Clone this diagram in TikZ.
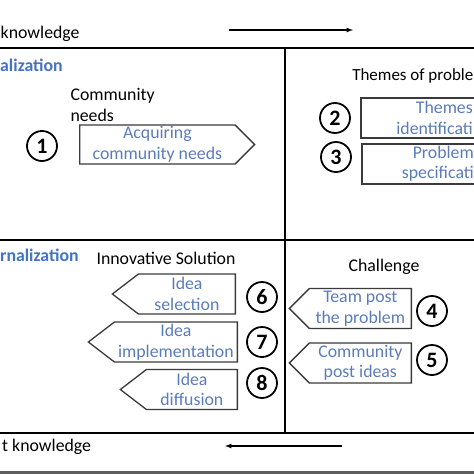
\documentclass[tikz,border=0pt]{standalone}
\usepackage{fontspec}
\setmainfont{Carlito}
\usepackage{tikz}
\usetikzlibrary{shapes,arrows,positioning}
\definecolor{headblue}{HTML}{4472C4}
\definecolor{stepblue}{HTML}{5A7CBA}
\definecolor{boxgray}{HTML}{3A3A3A}
\definecolor{bandgray}{HTML}{5E5E5E}
\tikzset{
  gridline/.style  = {black, line width=2pt},
  flowarrow/.style = {black, line width=1.2pt, ->, >=latex},
  numcirc/.style   = {circle, draw=black, line width=1.8pt, minimum size=30pt, inner sep=0pt,
                      font=\fontsize{22}{22}\selectfont\bfseries},
  stepright/.style = {signal, signal to=east, draw=boxgray, line width=1.3pt, text=stepblue,
                      align=center, minimum height=39pt, inner sep=1pt},
  stepleft/.style  = {signal, signal to=west, signal pointer angle=75, draw=boxgray,
                      line width=1.3pt, text=stepblue, align=center, minimum height=40pt, inner sep=1pt},
  stepbox/.style   = {rectangle, draw=boxgray, line width=1.3pt,
                      minimum width=166pt, minimum height=40pt},
  steptext/.style  = {text=stepblue, align=right, anchor=east, inner sep=0pt},
  quadtitle/.style = {text=headblue, font=\fontsize{17.8}{20.5}\selectfont\bfseries},
}

\begin{document}
\begin{tikzpicture}[x=1pt,y=-1pt,font=\fontsize{17.8}{20.5}\selectfont]
  \useasboundingbox (0,0) rectangle (474,474);
  \clip (0,0) rectangle (474,474);

  % frame
  \draw[gridline] (-5,48) -- (480,48);
  \draw[gridline] (-5,240) -- (480,240);
  \draw[gridline] (-5,433) -- (480,433);
  \draw[gridline] (285,48) -- (285,433);
  \fill[bandgray] (0,471) rectangle (474,474);

  % knowledge axes
  \node[anchor=west, inner sep=0pt] (toptext) at (0.5,34) {knowledge};
  \node[anchor=west, inner sep=0pt] (bottext) at (2,447) {t knowledge};
  \coordinate (ta) at (229,30);
  \coordinate (tb) at (353,30);
  \coordinate (ba) at (342,446);
  \coordinate (bb) at (225,446);
  \draw[flowarrow] (ta) -- (tb);
  \draw[flowarrow] (ba) -- (bb);

  % upper left
  \node[quadtitle, anchor=west, inner sep=0pt] (soc) at (0,65) {alization};
  \node[anchor=west, align=left] (needs) at (67,105) {Community\\needs};
  \node[stepright, minimum width=175pt, anchor=west] (b1) at (79,144.5) {Acquiring\\community needs};
  \node[numcirc] (c1) at (42,146) {1};

  % upper right
  \node[anchor=east, inner sep=0pt, font=\fontsize{17}{20}\selectfont] (themes) at (473.5,76) {Themes of proble};
  \node[stepbox] (b2) at (444,118) {};
  \node[stepbox] (b3) at (445,164) {};
  \node[steptext] (t2) at (473,118) {Themes\\identificati};
  \node[steptext] (t3) at (474,164) {Problem\\specificati};
  \node[numcirc] (c2) at (335,118) {2};
  \node[numcirc] (c3) at (336,157) {3};

  % lower left
  \node[quadtitle, anchor=west, inner sep=0pt] (intl) at (0,255) {rnalization};
  \node (innov) at (166,258) {Innovative Solution};
  \node[stepleft, minimum width=123pt, anchor=east] (b6) at (236,294) {Idea\\selection};
  \node[stepleft, minimum width=149pt, anchor=east] (b7) at (238,342) {Idea\\implementation};
  \node[stepleft, minimum width=117pt, anchor=east] (b8) at (238,389.5) {Idea\\diffusion};
  \node[numcirc] (c6) at (262,297) {6};
  \node[numcirc] (c7) at (262,342) {7};
  \node[numcirc] (c8) at (262,383) {8};

  % lower right
  \node (chall) at (384,267) {Challenge};
  \node[stepleft, signal pointer angle=90, minimum width=122pt, anchor=east] (b4) at (412,308.5) {Team post\\the problem};
  \node[stepleft, signal pointer angle=90, minimum width=122pt, anchor=east] (b5) at (412,363) {Community\\post ideas};
  \node[numcirc] (c4) at (432,311) {4};
  \node[numcirc] (c5) at (432,360) {5};
\end{tikzpicture}
\end{document}
